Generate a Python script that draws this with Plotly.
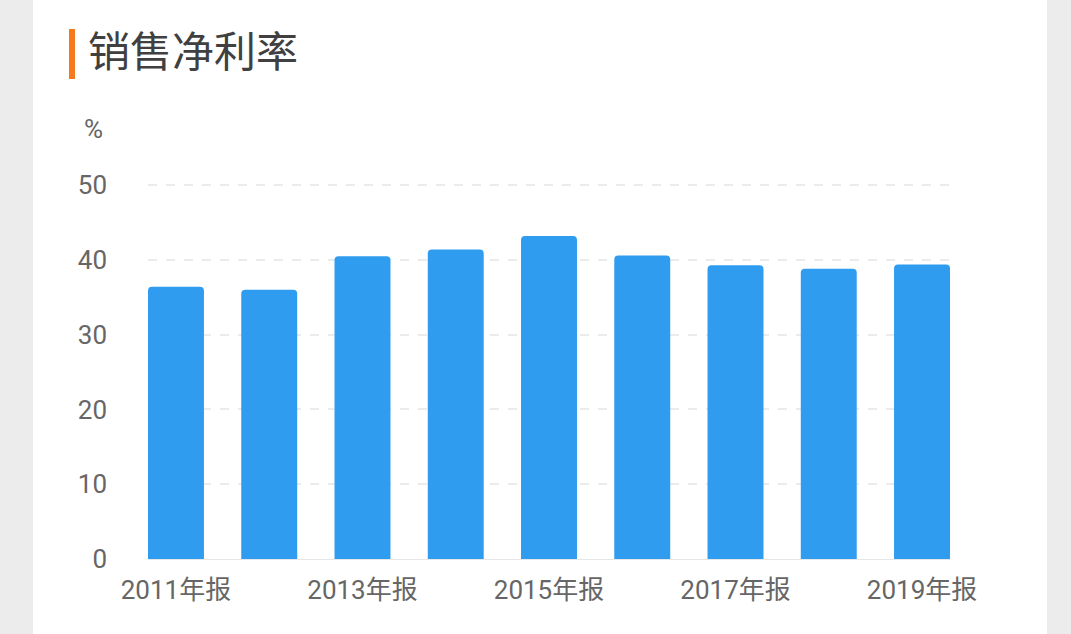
import plotly.graph_objects as go

categories = ["2011年报", "2012年报", "2013年报", "2014年报", "2015年报",
              "2016年报", "2017年报", "2018年报", "2019年报"]
values = [36.4, 36.0, 40.5, 41.4, 43.2, 40.6, 39.3, 38.8, 39.4]
tick_labels = ["2011年报", "2013年报", "2015年报", "2017年报", "2019年报"]
tick_positions = [0, 2, 4, 6, 8]
y_ticks = [0, 10, 20, 30, 40, 50]

W, H = 1071, 634
L, R, T, B = 148, 121, 184, 75
pw, ph = W - L - R, H - T - B

def px_x(p):
    return (p - L) / pw

def px_y(p):
    return (H - B - p) / ph

FONT = "Roboto, 'Noto Sans CJK SC', sans-serif"

fig = go.Figure()
fig.add_trace(go.Bar(
    x=list(range(len(categories))), y=values, width=0.6,
    marker=dict(color="#2f9cef", line=dict(width=0), cornerradius=4),
    hovertext=categories,
))

shapes = [
    dict(type="rect", xref="paper", yref="paper", x0=px_x(-5), x1=px_x(33),
         y0=px_y(H + 5), y1=px_y(-5), fillcolor="#ececec", line=dict(width=0), layer="below"),
    dict(type="rect", xref="paper", yref="paper", x0=px_x(1047), x1=px_x(W + 5),
         y0=px_y(H + 5), y1=px_y(-5), fillcolor="#ececec", line=dict(width=0), layer="below"),
    dict(type="rect", xref="paper", yref="paper", x0=px_x(69), x1=px_x(75),
         y0=px_y(79), y1=px_y(29), fillcolor="#f57a1f", line=dict(width=0)),
]

annotations = [
    dict(text="销售净利率", xref="paper", yref="paper", x=px_x(86), y=px_y(49),
         xanchor="left", yanchor="middle", showarrow=False,
         font=dict(family="'Noto Sans CJK SC', sans-serif", size=42, color="#404040")),
    dict(text="%", xref="paper", yref="paper", x=px_x(93), y=px_y(129),
         xanchor="center", yanchor="middle", showarrow=False,
         font=dict(family=FONT, size=26, color="#666666")),
]

fig.update_layout(
    width=W, height=H,
    margin=dict(l=L, r=R, t=T, b=B),
    paper_bgcolor="white", plot_bgcolor="white",
    showlegend=False,
    shapes=shapes, annotations=annotations,
    xaxis=dict(range=[-0.3, 8.3], tickvals=tick_positions, ticktext=tick_labels,
               showgrid=False, zeroline=False, showline=True, linecolor="#e6e6e6",
               linewidth=1, ticks="", ticklabelstandoff=8,
               tickfont=dict(family=FONT, size=26, color="#666666")),
    yaxis=dict(range=[0, 50.15], tickvals=y_ticks, showgrid=True, gridcolor="#ebebeb",
               griddash="dash", gridwidth=1.5, zeroline=False, showline=False, ticks="",
               ticklabelstandoff=40,
               tickfont=dict(family=FONT, size=26, color="#666666")),
)

fig.write_html("out.html", config={"displayModeBar": False},
               post_script="document.body.style.margin='0';document.body.style.overflow='hidden';")
